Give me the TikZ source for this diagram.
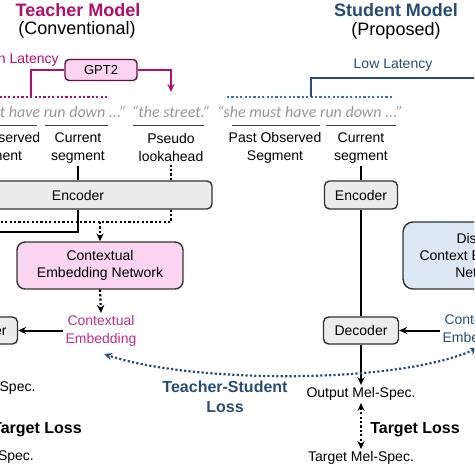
\documentclass[tikz,border=0pt]{standalone}
\usepackage{fontspec}
\setmainfont{Liberation Sans}
\newfontfamily\quotefont{Carlito}
\usetikzlibrary{arrows.meta}
\definecolor{tmag}{RGB}{176,16,108}
\definecolor{tmaglight}{RGB}{192,44,136}
\definecolor{sblue}{RGB}{40,76,116}
\definecolor{sdots}{RGB}{52,116,176}
\definecolor{pinkfill}{RGB}{250,212,240}
\definecolor{bluefill}{RGB}{221,232,245}
\definecolor{grayfill}{RGB}{236,236,236}
\definecolor{quotegray}{RGB}{150,150,150}
\tikzset{
  lbl/.style={font=\fontsize{7}{9}\selectfont, align=center, inner sep=1pt},
  title/.style={font=\bfseries\fontsize{9}{11}\selectfont, inner sep=1pt},
  subtitle/.style={font=\fontsize{9}{11}\selectfont, inner sep=1pt},
  losslbl/.style={font=\bfseries\fontsize{8}{10}\selectfont, align=center, inner sep=1pt},
  quote/.style={font=\quotefont\itshape\fontsize{8}{9}\selectfont, text=quotegray, inner sep=0pt},
  blockbox/.style={draw=black!80, line width=0.7pt, rounded corners=2.5pt, fill=grayfill,
    font=\fontsize{7}{9}\selectfont, inner sep=0pt},
  netbox/.style={draw=black!80, line width=0.7pt, rounded corners=4pt,
    font=\fontsize{7}{8.5}\selectfont, align=center, inner sep=0pt},
  gptbox/.style={draw=tmag!60!black, line width=0.7pt, rounded corners=2pt, fill=pinkfill,
    font=\fontsize{6.5}{8}\selectfont, minimum width=36pt, minimum height=10.5pt, inner sep=0pt},
  uline/.style={draw=black!75, line width=0.5pt},
  flow/.style={draw=black, line width=1pt},
  dotflow/.style={draw=black, line width=1.1pt, dash pattern=on 1.1pt off 1.1pt},
  tip/.style={-{Stealth[length=4pt,width=3.6pt]}},
  tips/.style={{Stealth[length=4pt,width=3.6pt]}-{Stealth[length=4pt,width=3.6pt]}},
}

\begin{document}
\begin{tikzpicture}[x=0.5pt, y=-0.5pt]
    \useasboundingbox (0,0) rectangle (474,474);
    \clip (0,0) rectangle (474,474);

    % Titles
    \node[title, text=tmag] (tTitle) at (78,10) {Teacher Model};
    \node[subtitle] (tSub) at (77,30) {(Conventional)};
    \node[title, text=sblue] (sTitle) at (396,10) {Student Model};
    \node[subtitle] (sSub) at (396,31) {(Proposed)};

    % Latency
    \node[lbl, text=tmag, anchor=east] (hiLat) at (61,60) {High Latency};
    \node[lbl, text=sblue] (loLat) at (393,65) {Low Latency};
    \node[gptbox] (gpt) at (101,70) {GPT2};

    % Text stream
    \node[quote, anchor=east] (qPast) at (127,112) {“she must have run down ...”};
    \node[quote] (qLook) at (171,112) {“the street.”};
    \node[quote] (qCur) at (310,112) {“she must have run down ...”};
    \draw[uline] (-10,126) -- (37,126);
    \draw[uline] (45,126) -- (108,126);
    \draw[uline] (133,126) -- (204,126);
    \draw[uline] (232,126) -- (320,126);
    \draw[uline] (326,126) -- (396,126);

    % Segments
    \node[lbl] (tPast) at (-6,148) {Past Observed\\Segment};
    \node[lbl] (tCur) at (78,148) {Current\\segment};
    \node[lbl] (tLook) at (171,148) {Pseudo\\lookahead};
    \node[lbl] (sPast) at (275,148) {Past Observed\\Segment};
    \node[lbl] (sCur) at (361,148) {Current\\segment};

    % Blocks
    \node[blockbox, minimum width=134pt, minimum height=14pt] (tEnc) at (78,195) {Encoder};
    \node[blockbox, minimum width=36.5pt, minimum height=14pt] (sEnc) at (361,195) {Encoder};
    \node[netbox, fill=pinkfill, minimum width=83pt, minimum height=23.5pt] (tNet) at (100,265.5) {Contextual\\Embedding Network};
    \node[netbox, fill=bluefill, rounded corners=5pt, minimum width=78pt, minimum height=33.5pt] (sNet) at (481,255.5) {Distilled\\Context Embedding\\Network};
    \node[blockbox, minimum width=37.5pt, minimum height=13.5pt] (tDec) at (-20,330.5) {Decoder};
    \node[blockbox, minimum width=37.5pt, minimum height=13.5pt] (sDec) at (361,330.5) {Decoder};
    \node[lbl, text=tmaglight] (tEmb) at (101,331) {Contextual\\Embedding};
    \node[lbl, text=sblue] (sEmb) at (478,330) {Contextual\\Embedding};

    % Outputs
    \node[lbl] (tOut) at (-19,388) {Output Mel-Spec.};
    \node[losslbl] (tLoss) at (37,430) {Target Loss};
    \node[lbl] (tTgt) at (-19,457) {Target Mel-Spec.};
    \node[lbl] (sOut) at (361,394) {Output Mel-Spec.};
    \node[losslbl] (sLoss) at (415,430) {Target Loss};
    \node[lbl] (sTgt) at (361,458) {Target Mel-Spec.};
    \node[losslbl, text=sblue] (tsLoss) at (225,397) {Teacher-Student\\Loss};

    % Latency brackets
    \coordinate (gptIn) at (31,97);
    \coordinate (gptOut) at (171,92);
    \coordinate (mDotL) at (-5,97);
    \coordinate (mDotR) at (107,97);
    \coordinate (bDotL) at (227,97);
    \coordinate (bDotR) at (393,97);
    \coordinate (loFoot) at (311,97);
    \coordinate (loEnd) at (480,78);
    \draw[flow, draw=tmag] (gpt.west) -| (gptIn);
    \draw[flow, draw=tmag, tip] (gpt.east) -| (gptOut);
    \draw[dotflow, draw=tmag] (mDotL) -- (mDotR);
    \draw[dotflow, draw=sdots] (bDotL) -- (bDotR);
    \draw[flow, draw=sblue] (loFoot) |- (loEnd);

    % Teacher
    \coordinate (tCtxL) at (-5,222);
    \coordinate (tSegL) at (-5,232);
    \draw[flow] (tCur.south) -- (tEnc.north);
    \draw[dotflow] (tLook.south) -- (tLook.south |- tEnc.north);
    \draw[dotflow] (tEnc.south -| tLook) |- (tCtxL);
    \draw[flow] (tEnc.south) |- (tSegL);
    \draw[dotflow, tip] (tNet.north |- tCtxL) -- (tNet.north);
    \draw[dotflow, tip] (tNet.south) -- (tEmb.north);
    \draw[flow, tip] (tEmb.west |- tDec.east) -- (tDec.east);

    % Student
    \path
        (sCur) edge[flow] (sEnc)
        (sEnc) edge[flow] (sDec)
        (sDec) edge[flow, tip] (sOut)
        (sOut) edge[dotflow, tips] (sTgt);
    \draw[flow, tip] (sEmb.west |- sDec.east) -- (sDec.east);

    % Teacher-Student loss
    \coordinate (tsL) at (104,354);
    \draw[dotflow, draw=sblue, tips]
        (sEmb.south) .. controls (395,385) and (190,383) .. (tsL);
\end{tikzpicture}
\end{document}
